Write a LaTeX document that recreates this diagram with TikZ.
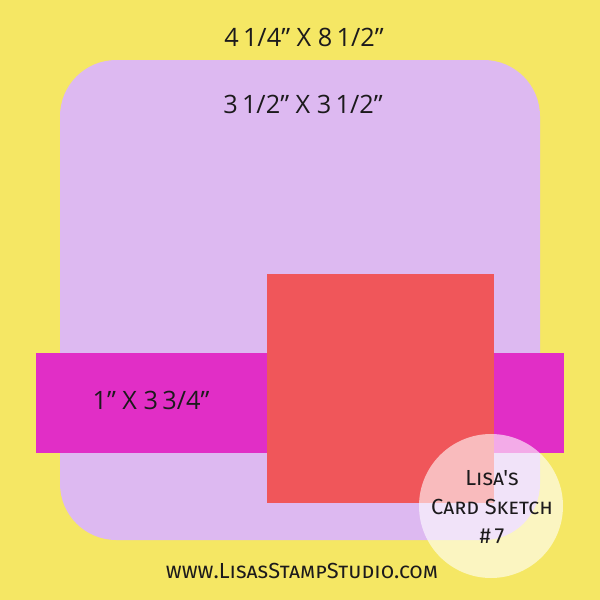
\documentclass[tikz,border=0pt]{standalone}
\usepackage{fontspec}
\setmainfont{Open Sans}
\newfontfamily\sketchfont{Fira Sans}[Letters=SmallCaps]
\usepackage{tikz}

\definecolor{bgyellow}{HTML}{F5E764}
\definecolor{baselav}{HTML}{DDB9F1}
\definecolor{bandpink}{HTML}{E12EC6}
\definecolor{topred}{HTML}{F0565A}
\definecolor{inkdark}{HTML}{1C1A1C}

\newcommand{\inch}{\symbol{34}}

\begin{document}
\begin{tikzpicture}[x=0.025cm,y=-0.025cm,
      dim label/.style={text=inkdark,font=\fontsize{18}{20}\selectfont,inner sep=0pt},
      sketch label/.style={text=inkdark,font=\sketchfont\fontsize{15.5}{20.5}\selectfont,
        align=center,inner sep=0pt}]

      \useasboundingbox (0,0) rectangle (600,600);
      \fill[bgyellow] (0,0) rectangle (600,600);

      % card base, band and top layer
      \fill[baselav,rounded corners=40] (60,60) rectangle (540,540);
      \fill[bandpink] (36,353) rectangle (564,453);
      \fill[topred] (267,274) rectangle (494,503);

      % sketch badge
      \fill[white,opacity=0.6] (491,506) circle (72);

      \node[dim label] (outer) at (304,37) {4\,1/4\inch\ X 8\,1/2\inch};
      \node[dim label] (base) at (303,104) {3\,1/2\inch\ X 3\,1/2\inch};
      \node[dim label] (band) at (151,400) {1\inch\ X 3\,3/4\inch};
      \node[sketch label] (badge) at (492,507) {Lisa's\\Card Sketch\\\#\,7};
      \node[sketch label] (site) at (302,571) {www.LisasStampStudio.com};
    \end{tikzpicture}
\end{document}
